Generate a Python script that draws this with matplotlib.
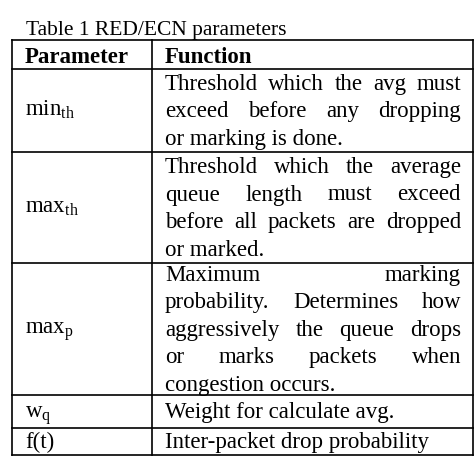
import matplotlib.pyplot as plt

plt.rcParams['font.family'] = ['Liberation Serif', 'DejaVu Serif']
plt.rcParams['mathtext.fontset'] = 'custom'
plt.rcParams['mathtext.rm'] = 'Liberation Serif'

title = 'Table 1 RED/ECN parameters'
headers = ['Parameter', 'Function']
params = [r'min$_{\mathrm{th}}$', r'max$_{\mathrm{th}}$', r'max$_{\mathrm{p}}$', r'w$_{\mathrm{q}}$', 'f(t)']
functions = [
    ['Threshold which the avg must', 'exceed before any dropping', 'or marking is done.'],
    ['Threshold which the average', 'queue length must exceed', 'before all packets are dropped', 'or marked.'],
    ['Maximum marking', 'probability. Determines how', 'aggressively the queue drops',
     'or marks packets when', 'congestion occurs.'],
    ['Weight for calculate avg.'],
    ['Inter-packet drop probability'],
]

W, H = 474, 457
fig = plt.figure(figsize=(W / 100, H / 100), dpi=100)
ax = fig.add_axes([0, 0, 1, 1])
ax.set_xlim(0, W)
ax.set_ylim(H, 0)
ax.axis('off')

fs = 16.5
x0, xdiv, x1 = 12, 152, 473
row_lines = [40, 69, 152, 263, 395, 428, 455]
line_h = 27.5
tx0, tx1 = 165, 461

ax.text(26, 35, title, fontsize=15.5, va='baseline')
for y in row_lines:
    ax.plot([x0, x1], [y, y], color='black', lw=1.2)
for x in (x0, xdiv, x1):
    ax.plot([x, x], [row_lines[0], row_lines[-1]], color='black', lw=1.2)

ax.text(25, 63, headers[0], fontsize=fs, fontweight='bold', va='baseline')
ax.text(165, 63, headers[1], fontsize=fs, fontweight='bold', va='baseline')

fig.canvas.draw()
r = fig.canvas.get_renderer()


def width(s):
    t = ax.text(0, 0, s, fontsize=fs)
    bb = t.get_window_extent(r)
    t.remove()
    return bb.width * (W / fig.bbox.width)


for i, (p, lines) in enumerate(zip(params, functions)):
    top, bot = row_lines[i + 1], row_lines[i + 2]
    n = len(lines)
    first = top + (bot - top - n * line_h) / 2 + line_h - 7
    py = (top + bot) / 2 + 5 if n > 1 else first
    ax.text(25, py, p, fontsize=fs, va='baseline')
    for k, ln in enumerate(lines):
        y = first + k * line_h
        words = ln.split()
        if k < n - 1 and n > 1 and len(words) > 1:
            ws = [width(w) for w in words]
            gap = (tx1 - tx0 - sum(ws)) / (len(words) - 1)
            x = tx0
            for w, wd in zip(words, ws):
                ax.text(x, y, w, fontsize=fs, va='baseline')
                x += wd + gap
        else:
            ax.text(tx0, y, ln, fontsize=fs, va='baseline')

fig.savefig('out.png', dpi=100)
